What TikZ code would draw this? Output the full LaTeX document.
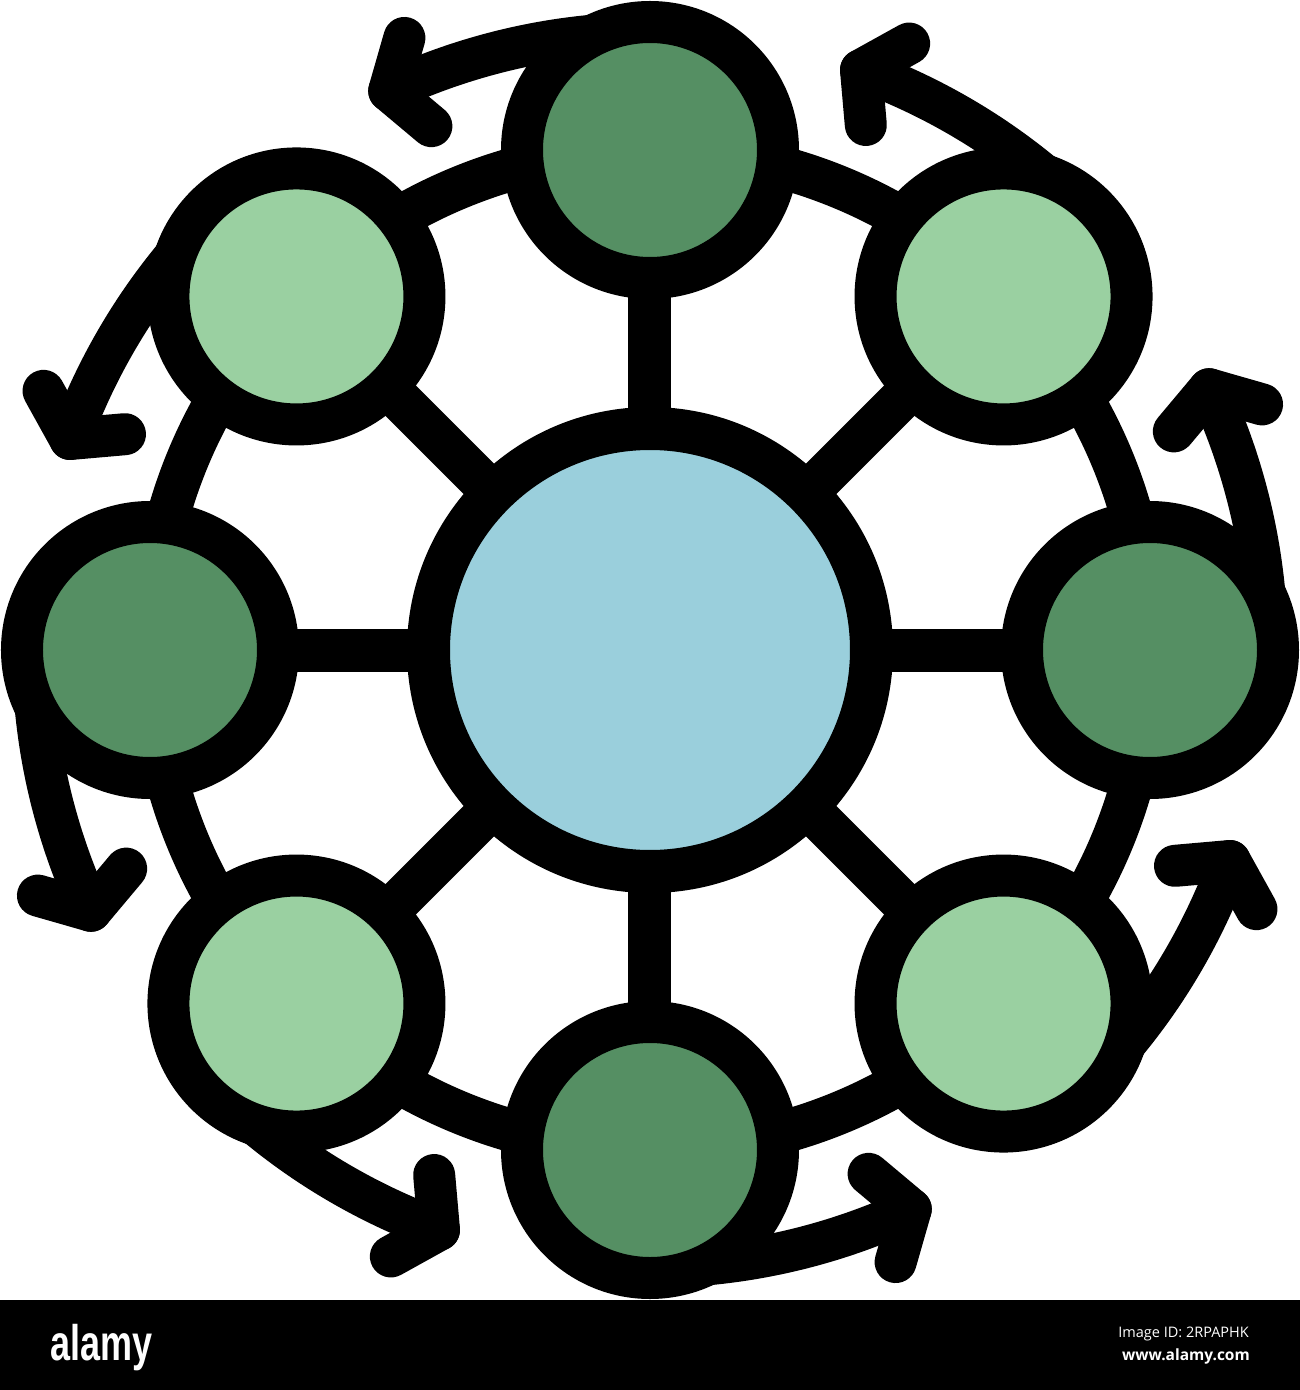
\documentclass[tikz,border=0pt]{standalone}
\usepackage{fontspec}
\newfontfamily\wmfont{Open Sans}
\newfontfamily\logofont{Liberation Sans}
\usetikzlibrary{backgrounds}
\definecolor{darkg}{RGB}{85,143,99}
\definecolor{lightg}{RGB}{154,208,161}
\definecolor{lightb}{RGB}{154,207,220}
\begin{document}
\begin{tikzpicture}[x=1pt,y=1pt,
  sat/.style={circle, draw=black, line width=42pt, minimum size=256pt, inner sep=0pt},
  hub/.style={circle, draw=black, fill=lightb, line width=43pt, minimum size=443pt, inner sep=0pt},
  linkline/.style={line width=43pt},
  flow/.style={line width=42pt, line cap=round, line join=round},
  bartext/.style={inner sep=0pt, text=white}]
\useasboundingbox (-650,-740) rectangle (650,650);
% nodes
\node[hub] (hub) at (0,0) {};
\foreach \a/\c/\n in {0/darkg/e,45/lightg/ne,90/darkg/n,135/lightg/nw,180/darkg/w,225/lightg/sw,270/darkg/s,315/lightg/se}
  \node[sat, fill=\c] (\n) at (\a:500) {};
\begin{pgfonlayer}{background}
  \fill[white] (-650,-740) rectangle (650,650);
  % outer ring joining the satellites
  \draw[linkline] (0,0) circle[radius=500];
  % spokes
  \foreach \n in {e,ne,n,nw,w,sw,s,se}
    \draw[linkline] (hub.center) -- (\n.center);
  % curved arrows (counter-clockwise)
  \foreach \a in {0,45,...,315} {
    \draw[flow] ({\a+3}:617) arc[start angle={\a+3}, end angle={\a+25}, radius=617];
    \draw[flow] ({\a+25}:617) ++({\a-16}:55) -- ({\a+25}:617) -- ++({\a-130}:55);
  }
\end{pgfonlayer}
% bottom bar
\node[fill=black, minimum width=1300pt, minimum height=90pt, inner sep=0pt, anchor=north west] (bar) at (-650,-650) {};
\node[bartext, anchor=base west, font=\logofont\bfseries\fontsize{50}{50}\selectfont] (logo) at (-600,-710) {\scalebox{0.72}[1]{alamy}};
\node[bartext, anchor=base east, font=\wmfont\fontsize{14.5}{15}\selectfont] (imgid) at (599,-687) {Image ID: 2RPAPHK};
\node[bartext, anchor=base east, font=\wmfont\bfseries\fontsize{15.5}{16}\selectfont] (url) at (600,-710) {www.alamy.com};
\end{tikzpicture}
\end{document}
